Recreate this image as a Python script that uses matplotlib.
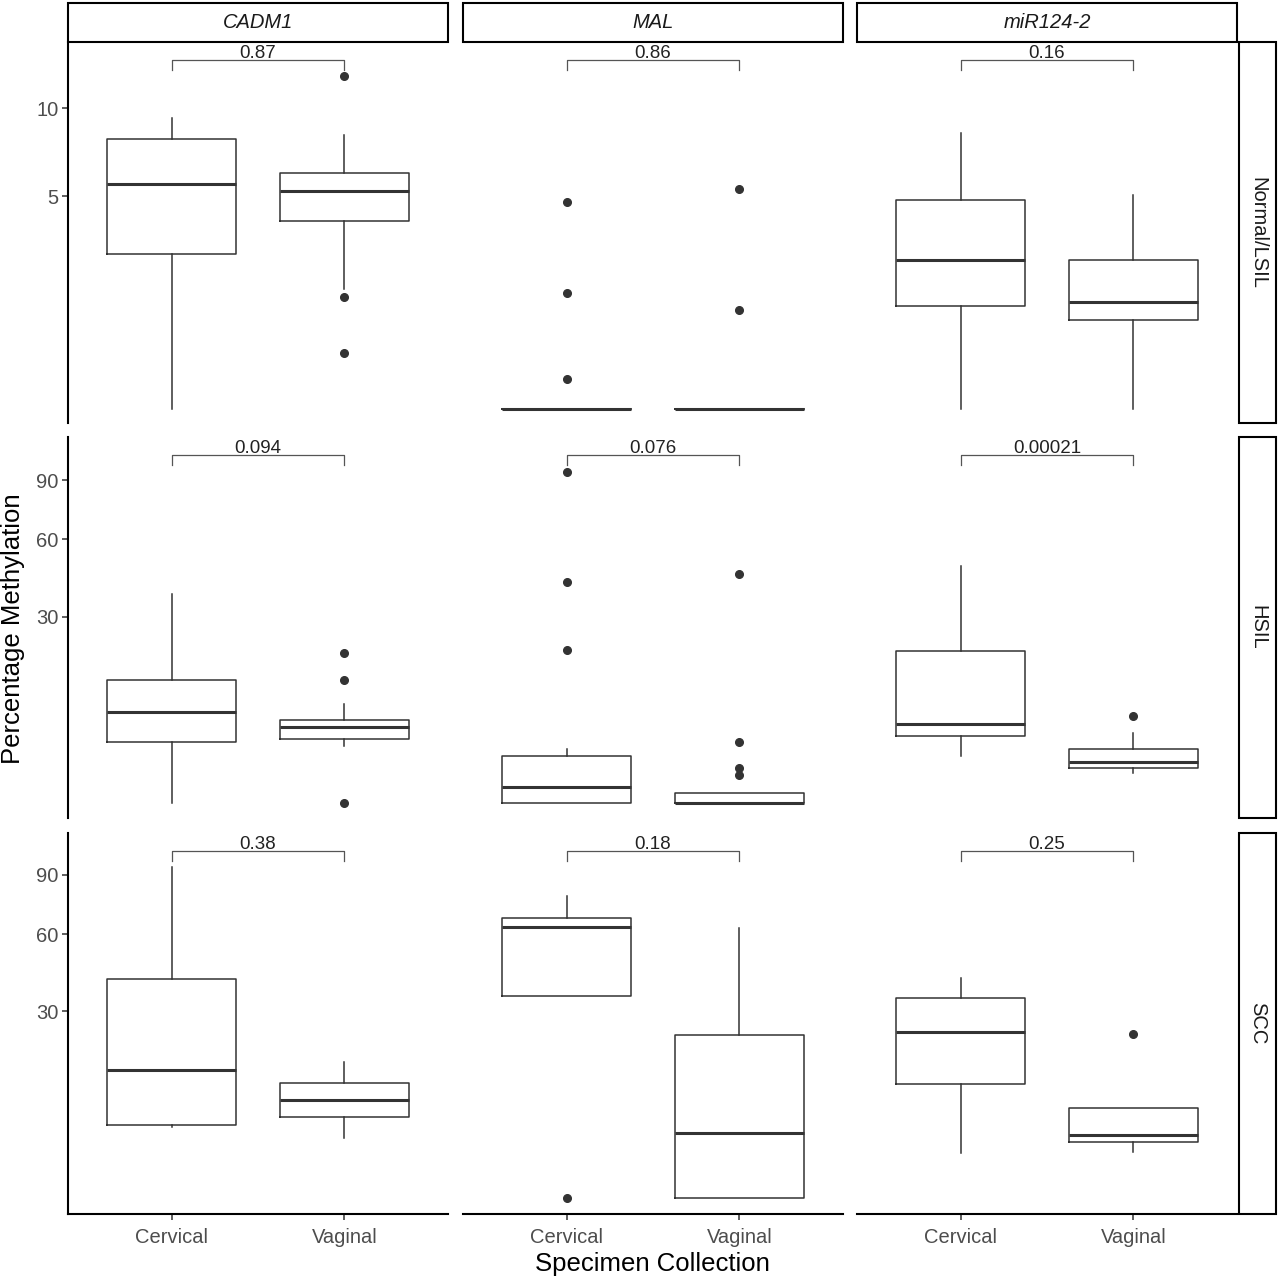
import numpy as np
import matplotlib
matplotlib.use("Agg")
import matplotlib.pyplot as plt
from matplotlib.patches import Rectangle
from matplotlib.transforms import blended_transform_factory

plt.rcParams['font.family'] = ['Liberation Sans', 'DejaVu Sans']

genes = ["CADM1", "MAL", "miR124-2"]
grades = ["Normal/LSIL", "HSIL", "SCC"]
collections = ["Cervical", "Vaginal"]

# p-values per [grade][gene]
p_values = [["0.87", "0.86", "0.16"],
            ["0.094", "0.076", "0.00021"],
            ["0.38", "0.18", "0.25"]]

# box statistics per [grade][gene][collection]
whislo = [[[0, 1.59], [0, 0], [0, 0]],
          [[0, 2.80], [0, 0], [1.90, 0.78]],
          [[4.35, 3.11], [35.2, 0], [1.70, 1.78]]]
q1 = [[[2.66, 3.90], [0, 0], [1.16, 0.88]],
      [[3.24, 3.56], [0, 0], [3.87, 1.07]],
      [[4.54, 5.65], [35.2, 0], [11.1, 2.64]]]
med = [[[5.62, 5.26], [0, 0], [2.45, 1.27]],
       [[7.16, 4.99], [0.22, 0], [5.35, 1.44]],
       [[13.99, 8.2], [63.4, 3.57], [23.6, 3.38]]]
q3 = [[[8.04, 6.16], [0, 0], [4.85, 2.46]],
      [[13.0, 5.91], [1.90, 0.077], [20.0, 2.48]],
      [[41.2, 11.4], [67.7, 22.9], [34.4, 7.02]]]
whishi = [[[9.35, 8.30], [0, 0], [8.44, 5.05]],
          [[37.8, 8.43], [2.48, 0.077], [48.3, 4.26]],
          [[94.2, 16.0], [78.8, 62.9], [41.6, 7.02]]]
fliers = [[[[], [12.25, 1.39, 0.34]], [[4.75, 1.48, 0.10], [5.37, 1.08]], [[], []]],
          [[[], [19.3, 13.1, 0]], [[94.8, 42.1, 20.3], [45.2, 3.24, 1.07, 0.67]], [[], [6.44]]],
          [[[], []], [[0], []], [[], [23.2]]]]

y_ticks = [[5, 10], [30, 60, 90], [30, 60, 90]]
y_lims = [(-0.0225, 14.9), (-0.2, 115.7), (-0.23, 114.9)]


def fwd(v):
    v = np.asarray(v, dtype=float)
    return np.sign(v) * np.sqrt(np.abs(v))


def inv(v):
    v = np.asarray(v, dtype=float)
    return np.sign(v) * v ** 2


W = H = 1280
fig = plt.figure(figsize=(12.8, 12.8), dpi=100)
fig.patch.set_facecolor('white')

col_left = [68, 463, 857]
col_w = 380
row_top = [42, 437, 833]
row_h = 381

line_c = '#333333'
for r in range(3):
    for c in range(3):
        ax = fig.add_axes([col_left[c] / W, 1 - (row_top[r] + row_h) / H, col_w / W, row_h / H])
        ax.set_yscale('function', functions=(fwd, inv))
        stats = []
        for k in range(2):
            stats.append(dict(med=med[r][c][k], q1=q1[r][c][k], q3=q3[r][c][k],
                              whislo=whislo[r][c][k], whishi=whishi[r][c][k],
                              fliers=np.array(fliers[r][c][k])))
        ax.bxp(stats, positions=[1, 2], widths=0.75, showcaps=False,
               boxprops=dict(color=line_c, linewidth=1.1),
               whiskerprops=dict(color=line_c, linewidth=1.1),
               medianprops=dict(color=line_c, linewidth=2.2),
               flierprops=dict(marker='o', markerfacecolor=line_c, markeredgecolor=line_c,
                               markersize=5.5, linestyle='none'))
        ax.set_xlim(0.4, 2.6)
        ax.set_ylim(*y_lims[r])
        ax.set_yticks(y_ticks[r])
        ax.set_yticklabels([str(t) for t in y_ticks[r]])
        ax.set_xticks([1, 2])
        ax.set_xticklabels(collections)
        for s in ['top', 'right']:
            ax.spines[s].set_visible(False)
        ax.spines['left'].set_visible(c == 0)
        ax.spines['bottom'].set_visible(r == 2)
        for s in ['left', 'bottom']:
            ax.spines[s].set_linewidth(1.5)
            ax.spines[s].set_color('black')
        ax.tick_params(axis='y', length=4 if c == 0 else 0, labelleft=(c == 0),
                       labelsize=14.5, labelcolor='#4D4D4D', color=line_c, width=1.1, pad=3)
        ax.tick_params(axis='x', length=4 if r == 2 else 0, labelbottom=(r == 2),
                       labelsize=14.5, labelcolor='#4D4D4D', color=line_c, width=1.1, pad=6)
        ax.minorticks_off()

        # comparison bracket
        tr = blended_transform_factory(ax.transData, ax.transAxes)
        ax.plot([1, 1, 2, 2], [0.926, 0.953, 0.953, 0.926], transform=tr,
                color='#555555', lw=0.9, clip_on=False)
        ax.text(1.5, 0.958, p_values[r][c], transform=tr, ha='center', va='baseline',
                fontsize=13.5, color='#222222', clip_on=False)

# top strips
for c in range(3):
    fig.add_artist(Rectangle((col_left[c] / W, 1 - 42 / H), col_w / W, 39 / H,
                             transform=fig.transFigure, facecolor='white',
                             edgecolor='black', linewidth=1.5))
    fig.text((col_left[c] + col_w / 2) / W, 1 - 22 / H, genes[c], ha='center', va='center',
             fontsize=14.5, style='italic', color='#1A1A1A')

# right strips
for r in range(3):
    fig.add_artist(Rectangle((1239 / W, 1 - (row_top[r] + row_h) / H), 37 / W, row_h / H,
                             transform=fig.transFigure, facecolor='white',
                             edgecolor='black', linewidth=1.5))
    fig.text(1258 / W, 1 - (row_top[r] + row_h / 2) / H, grades[r], ha='center', va='center',
             fontsize=14.5, rotation=-90, color='#1A1A1A')

fig.text(13 / W, 1 - 629 / H, "Percentage Methylation", rotation=90, ha='center', va='center',
         fontsize=18.5, color='black')
fig.text(652 / W, 1 - 1264 / H, "Specimen Collection", ha='center', va='center',
         fontsize=18.5, color='black')

fig.savefig("out.png", dpi=100)
